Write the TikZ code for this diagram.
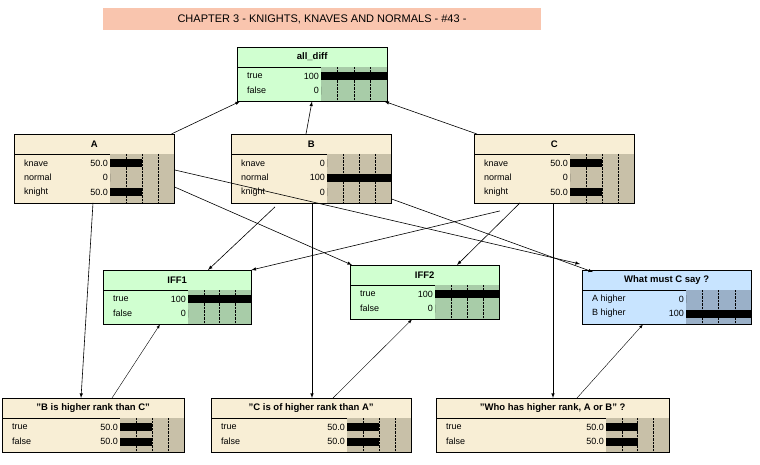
\documentclass[tikz,border=0pt]{standalone}
\usepackage{fontspec}
\setmainfont{Liberation Sans}
\usetikzlibrary{calc}
\definecolor{beige}{HTML}{F8EED5}
\definecolor{beigebar}{HTML}{C8C0A8}
\definecolor{mint}{HTML}{D0FFD0}
\definecolor{mintbar}{HTML}{A8CCA8}
\definecolor{sky}{HTML}{C8E4FF}
\definecolor{skybar}{HTML}{9AB0C8}
\definecolor{salmon}{HTML}{F9C5AE}
\tikzset{
  box/.style={draw, inner sep=0pt, anchor=north west},
  link/.style={-latex, semithick},
  thin link/.style={-latex, thin},
  lbl/.style={font=\fontsize{9}{10}\selectfont, inner sep=0pt},
}
% name, x, y, width, rows, bar offset, title, colour
\newcommand\bnet[8]{%
  \node[box, fill=#8, minimum width=#4pt, minimum height=25pt+#5*14.5pt] (#1) at (#2,#3) {};
  \node[lbl, font=\bfseries\fontsize{9.5}{10}\selectfont] at ($(#1.north)+(0,-10pt)$) {#7};
  \fill[#8bar] ($(#1.north west)+(#6pt,-20pt)$) rectangle (#1.south east);
  \foreach \q in {1,2,3}
    \draw[densely dotted] ($(#1.north west)+(#6pt,-20pt)+({\q*(#4-#6)/4*1pt},0)$) -- ($(#1.south west)+(#6pt,0)+({\q*(#4-#6)/4*1pt},0)$);
  \draw ($(#1.north west)+(0,-20pt)$) -- ++(#6pt,0);
  \draw (#1.north west) rectangle (#1.south east);
}
% node, row, label, value, percent, bar offset, width
\newcommand\brow[7]{%
  \node[lbl, anchor=west] at ($(#1.north west)+(10pt,{-29pt-#2*14.5pt})$) {#3};
  \node[lbl, anchor=east] at ($(#1.north west)+(#6pt-2pt,{-29pt-#2*14.5pt})$) {#4};
  \fill ($(#1.north west)+(#6pt,{-25pt-#2*14.5pt})$) rectangle ++({#5*(#7-#6)/100*1pt},-8pt);
}
\begin{document}
\begin{tikzpicture}[x=1pt,y=-1pt]
  \useasboundingbox (0,0) rectangle (760,464);
  \fill[white] (0,0) rectangle (760,464);

  % title
  \node[fill=salmon, minimum width=438pt, minimum height=22pt, inner sep=0pt,
        font=\fontsize{11}{12}\selectfont] (title) at (322,19) {CHAPTER 3 - KNIGHTS, KNAVES AND NORMALS - \#43 -};

  % nodes
  \bnet{alldiff}{237}{47}{150}{2}{84}{all\_diff}{mint}
  \brow{alldiff}{0}{true}{100}{100}{84}{150}
  \brow{alldiff}{1}{false}{0}{0}{84}{150}

  \bnet{A}{14}{134}{160}{3}{96}{A}{beige}
  \brow{A}{0}{knave}{50.0}{50}{96}{160}
  \brow{A}{1}{normal}{0}{0}{96}{160}
  \brow{A}{2}{knight}{50.0}{50}{96}{160}

  \bnet{B}{231}{134}{160}{3}{96}{B}{beige}
  \brow{B}{0}{knave}{0}{0}{96}{160}
  \brow{B}{1}{normal}{100}{100}{96}{160}
  \brow{B}{2}{knight}{0}{0}{96}{160}

  \bnet{C}{474}{134}{160}{3}{96}{C}{beige}
  \brow{C}{0}{knave}{50.0}{50}{96}{160}
  \brow{C}{1}{normal}{0}{0}{96}{160}
  \brow{C}{2}{knight}{50.0}{50}{96}{160}

  \bnet{iffone}{103}{270}{148}{2}{85}{IFF1}{mint}
  \brow{iffone}{0}{true}{100}{100}{85}{148}
  \brow{iffone}{1}{false}{0}{0}{85}{148}

  \bnet{ifftwo}{350}{265}{149}{2}{85}{IFF2}{mint}
  \brow{ifftwo}{0}{true}{100}{100}{85}{149}
  \brow{ifftwo}{1}{false}{0}{0}{85}{149}

  \bnet{say}{582}{270}{169}{2}{104}{What must C say ?}{sky}
  \brow{say}{0}{A higher}{0}{0}{104}{169}
  \brow{say}{1}{B higher}{100}{100}{104}{169}

  \bnet{sone}{2}{398}{182}{2}{118}{"B is higher rank than C"}{beige}
  \brow{sone}{0}{true}{50.0}{50}{118}{182}
  \brow{sone}{1}{false}{50.0}{50}{118}{182}

  \bnet{stwo}{211}{398}{200}{2}{136}{"C is of higher rank than A"}{beige}
  \brow{stwo}{0}{true}{50.0}{50}{136}{200}
  \brow{stwo}{1}{false}{50.0}{50}{136}{200}

  \bnet{sthree}{436}{398}{233}{2}{170}{"Who has higher rank, A or B" ?}{beige}
  \brow{sthree}{0}{true}{50.0}{50}{170}{233}
  \brow{sthree}{1}{false}{50.0}{50}{170}{233}

  % connectors
  \draw[link] ($(A.north east)+(-3pt,0)$) -- ($(alldiff.south west)+(3pt,0)$);
  \draw[link] ([xshift=75pt]B.north west) -- ([xshift=75pt]alldiff.south west);
  \draw[link] ($(C.north west)+(3pt,0)$) -- ($(alldiff.south east)+(-3pt,0)$);
  \draw[link] ([xshift=79pt]A.south west) -- ([xshift=79pt]sone.north west);
  \draw[link] ([xshift=81pt]B.south west) -- ([xshift=101pt]stwo.north west);
  \draw[link] ([xshift=79pt]C.south west) -- ([xshift=117pt]sthree.north west);
  \draw[link] ($(A.south east)+(0,16pt)$) -- ($(ifftwo.north west)+(2pt,0)$);
  \draw[link] ($(A.south east)+(0,33pt)$) -- ($(say.north west)+(-2pt,6pt)$);
  \draw[link] ($(B.south east)+(0,4pt)$) -- ($(say.north west)+(11pt,-2pt)$);
  \draw[link] ($(B.south west)+(44pt,-4pt)$) -- ($(iffone.north west)+(105pt,0)$);
  \draw[link] ($(C.south west)+(26pt,-8pt)$) -- (iffone.north east);
  \draw[link] ($(C.south west)+(46pt,0)$) -- ($(ifftwo.north west)+(107pt,0)$);
  \draw[thin link] ([xshift=110pt]sone.north west) -- ([xshift=57pt]iffone.south west);
  \draw[thin link] ([xshift=122pt]stwo.north west) -- ([xshift=62pt]ifftwo.south west);
  \draw[thin link] ([xshift=141pt]sthree.north west) -- ([xshift=61pt]say.south west);
\end{tikzpicture}
\end{document}
